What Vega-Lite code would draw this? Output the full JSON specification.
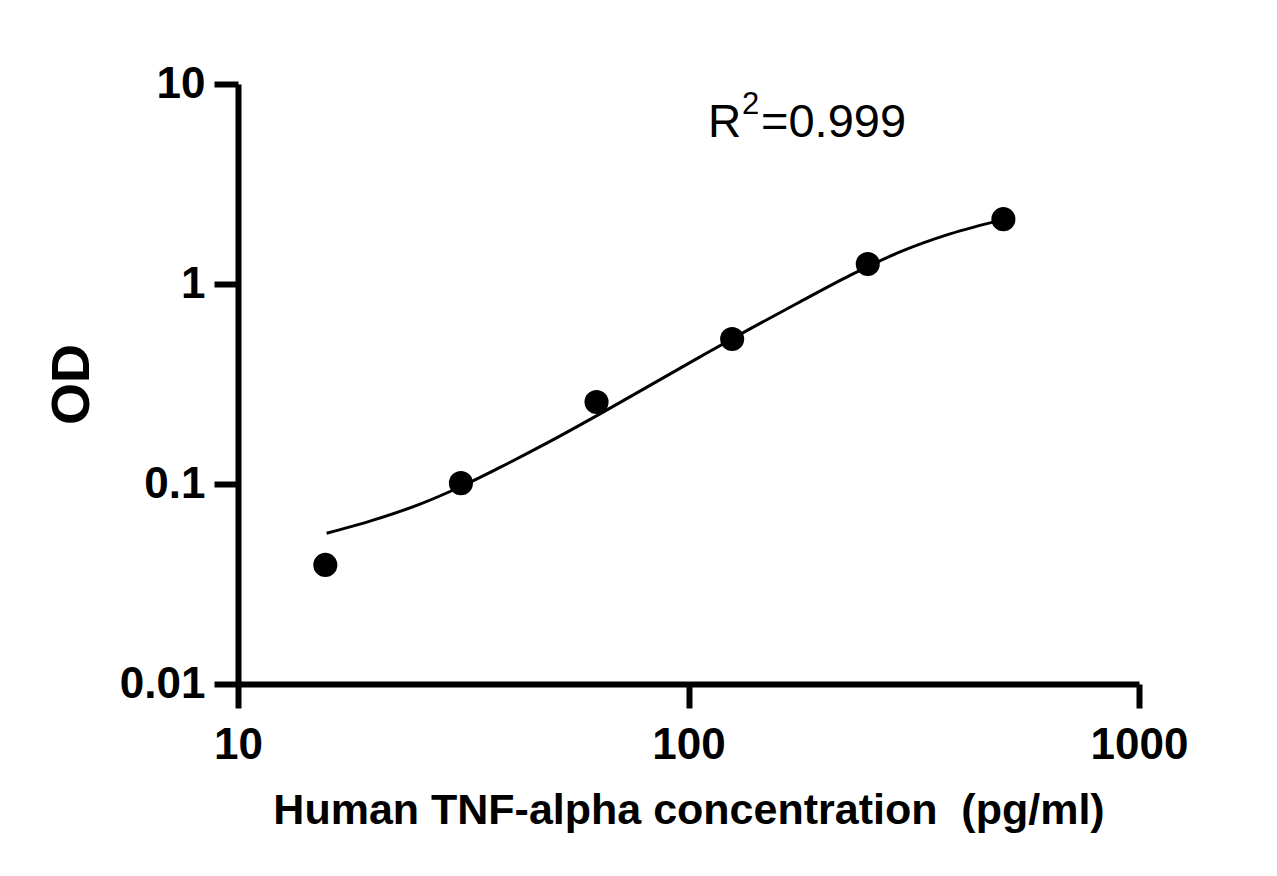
{
  "$schema": "https://vega.github.io/schema/vega-lite/v6.json",
  "width": 901,
  "height": 600,
  "autosize": "none",
  "padding": {"left": 238, "top": 84, "right": 138, "bottom": 192},
  "background": "white",
  "config": {
    "view": {"stroke": null},
    "font": "Liberation Sans",
    "axis": {
      "grid": false,
      "domainColor": "black",
      "domainWidth": 6,
      "tickColor": "black",
      "tickWidth": 6,
      "tickSize": 24,
      "labelColor": "black",
      "labelFont": "Liberation Sans",
      "labelFontWeight": "bold",
      "labelFontSize": 44,
      "titleColor": "black",
      "titleFont": "Liberation Sans",
      "titleFontWeight": "bold"
    }
  },
  "datasets": {
    "curve": [
      {"conc": 15.73, "od": 0.0567},
      {"conc": 19.63, "od": 0.0652},
      {"conc": 25.35, "od": 0.0793},
      {"conc": 31.10, "od": 0.0966},
      {"conc": 38.16, "od": 0.1211},
      {"conc": 49.27, "od": 0.1633},
      {"conc": 63.61, "od": 0.2242},
      {"conc": 82.14, "od": 0.3112},
      {"conc": 106.05, "od": 0.432},
      {"conc": 136.9, "od": 0.5964},
      {"conc": 176.8, "od": 0.8138},
      {"conc": 228.3, "od": 1.104},
      {"conc": 294.8, "od": 1.447},
      {"conc": 380.6, "od": 1.780},
      {"conc": 499.0, "od": 2.099}
    ],
    "points": [
      {"conc": 15.625, "od": 0.0394},
      {"conc": 31.25, "od": 0.101},
      {"conc": 62.5, "od": 0.257},
      {"conc": 125, "od": 0.531},
      {"conc": 250, "od": 1.259},
      {"conc": 500, "od": 2.11}
    ],
    "note": [
      {"conc": 110.5, "od": 5.43}
    ]
  },
  "encoding": {
    "x": {
      "field": "conc",
      "type": "quantitative",
      "scale": {"type": "log", "domain": [10, 1000], "nice": false},
      "axis": {
        "values": [10, 100, 1000],
        "format": "d",
        "labelFlush": false,
        "labelPadding": 15,
        "title": "Human TNF-alpha concentration \u00a0(pg/ml)",
        "titleFontSize": 43,
        "titlePadding": 22
      }
    },
    "y": {
      "field": "od",
      "type": "quantitative",
      "scale": {"type": "log", "domain": [0.01, 10], "nice": false},
      "axis": {
        "values": [0.01, 0.1, 1, 10],
        "format": "~g",
        "labelPadding": 9,
        "title": "OD",
        "titleFontSize": 54,
        "titlePadding": 20
      }
    }
  },
  "layer": [
    {
      "data": {"name": "curve"},
      "mark": {"type": "line", "color": "black", "strokeWidth": 3, "interpolate": "monotone"}
    },
    {
      "data": {"name": "points"},
      "mark": {"type": "point", "shape": "circle", "filled": true, "color": "black", "opacity": 1, "size": 580}
    },
    {
      "data": {"name": "note"},
      "mark": {"type": "text", "align": "left", "baseline": "alphabetic", "fontSize": 46, "font": "Liberation Sans", "color": "black", "text": "R"}
    },
    {
      "data": {"name": "note"},
      "mark": {"type": "text", "align": "left", "baseline": "alphabetic", "fontSize": 31, "font": "Liberation Sans", "color": "black", "text": "2", "dx": 34, "dy": -23}
    },
    {
      "data": {"name": "note"},
      "mark": {"type": "text", "align": "left", "baseline": "alphabetic", "fontSize": 47, "font": "Liberation Sans", "color": "black", "text": "=0.999", "dx": 53}
    }
  ]
}
